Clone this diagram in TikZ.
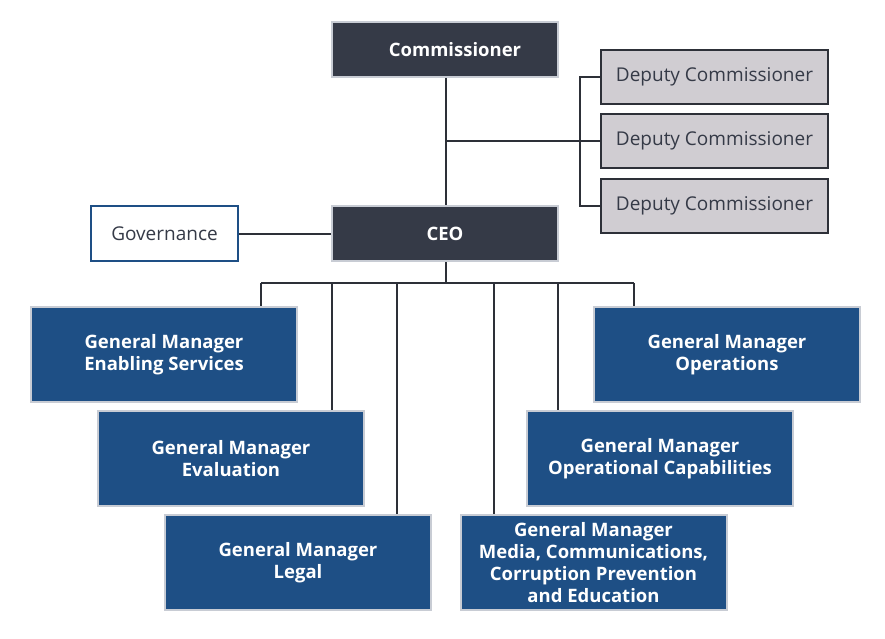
\documentclass[tikz,border=0pt]{standalone}
\usepackage{fontspec}
\setmainfont{Open Sans}
\usepackage{tikz}
\usetikzlibrary{positioning}
\definecolor{board}{RGB}{53,58,71}
\definecolor{manager}{RGB}{30,79,133}
\definecolor{deputy}{RGB}{208,205,210}
\definecolor{rim}{RGB}{200,204,212}
\definecolor{wire}{RGB}{45,48,56}

\begin{document}
\begin{tikzpicture}[
    x=1pt, y=-1pt,
    box/.style={inner sep=0pt, line width=2pt, align=center, font=\fontsize{19}{22}\selectfont},
    topbox/.style={box, draw=rim, fill=board, text=white, font=\fontsize{18.5}{22}\selectfont\bfseries, minimum width=226pt, minimum height=55pt},
    depbox/.style={box, draw=wire, fill=deputy, text=board, minimum width=227pt, minimum height=54pt},
    gmbox/.style={box, draw=rim, fill=manager, text=white, font=\fontsize{18.5}{22}\selectfont\bfseries, minimum width=266pt, minimum height=95pt},
    link/.style={draw=wire, line width=2pt}
]
    \useasboundingbox (0,0) rectangle (885,639);

    % Board level
    \node[topbox] (comm) at (445,49.5) {\hspace{20pt}Commissioner};
    \node[topbox] (ceo) at (445,233.5) {CEO};
    \node[box, draw=manager, fill=white, text=board, minimum width=147pt, minimum height=55pt] (gov) at (164.5,233.5) {Governance};

    % Deputy commissioners
    \node[depbox] (dep1) at (714.5,77) {Deputy Commissioner};
    \node[depbox] (dep2) at (714.5,141) {Deputy Commissioner};
    \node[depbox] (dep3) at (714.5,206) {Deputy Commissioner};

    % General managers, left side
    \node[gmbox] (enab) at (164,354.5) {General Manager\\Enabling Services};
    \node[gmbox] (eval) at (231,458.5) {General Manager\\Evaluation};
    \node[gmbox] (legal) at (298,562.5) {General Manager\\Legal};

    % General managers, right side
    \node[gmbox] (oper) at (727,354.5) {General Manager\\Operations};
    \node[gmbox] (opcap) at (660,458.5) {General Manager\\Operational Capabilities};
    \node[gmbox] (media) at (593.5,562.5) {General Manager\\Media, Communications,\\Corruption Prevention\\and Education};

    % Connectors
    \coordinate (brk) at (580,141);
    \coordinate (bus) at (446,283);
    \draw[link] (comm.south -| bus) -- (ceo.north -| bus);
    \draw[link] (dep1.west) -| (brk) |- (dep3.west);
    \draw[link] (comm.south |- brk) -- (dep2.west);
    \draw[link] (gov.east) -- (ceo.west);
    \draw[link] (ceo.south -| bus) -- (bus);
    \draw[link] (261,283) -- (634,283);
    \foreach \x/\n in {261/enab, 332/eval, 397/legal, 494/media, 558/opcap, 634/oper}
        \draw[link] (\x,283) -- (\x,0 |- \n.north);
\end{tikzpicture}
\end{document}
